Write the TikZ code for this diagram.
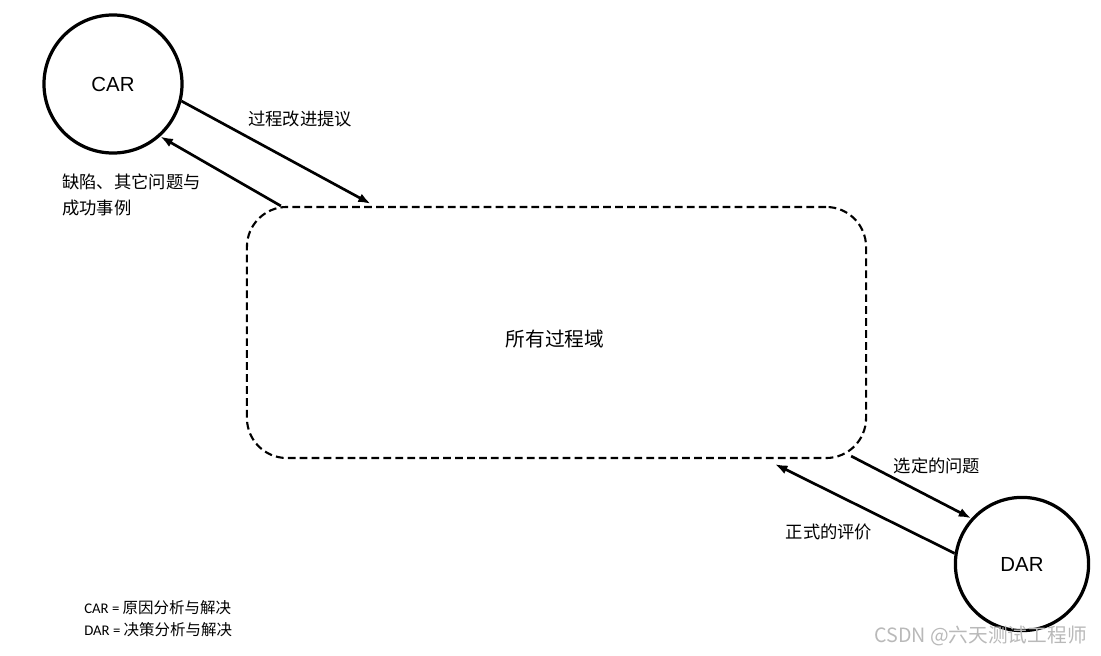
\documentclass[tikz,border=0pt]{standalone}
\usepackage{fontspec}
\setmainfont{Liberation Sans}
\newfontfamily\cjk{Noto Sans CJK SC}
\newfontfamily\calibri{Carlito}
\usetikzlibrary{arrows.meta,calc,positioning}

\begin{document}
\begin{tikzpicture}[x=0.025cm,y=-0.025cm,>={Latex[length=9pt,width=6.5pt]},
  proc/.style={circle,draw,line width=2.3pt,minimum size=3.45cm,font=\fontsize{14.5}{16}\selectfont},
  flow/.style={->,line width=1.9pt},
  lbl/.style={font=\cjk\fontsize{12.3}{18.5}\selectfont,inner sep=0pt}]
\useasboundingbox (0,0) rectangle (1101,656);
\node[proc] (car) at (113,84) {CAR};
\node[proc,minimum size=3.33cm] (dar) at (1022,564) {DAR};
\node[draw,line width=1.5pt,dash pattern=on 5.5pt off 3pt,rounded corners=1cm,
  minimum width=15.475cm,minimum height=6.275cm] (domain) at (556.5,332.5) {};
\node[font=\cjk\fontsize{14}{16}\selectfont,inner sep=0pt] (domaintext) at (555,339) {所有过程域};
\draw[flow] (car.-14) -- ($(domain.north west)+(125,-2)$);
\draw[flow] ($(domain.north west)+(35,0)$) -- (car.-48);
\draw[flow] ($(domain.south east)+(-16,-3)$) -- (dar.138);
\draw[flow] (dar.171) -- ($(domain.south west)+(529,5)$);
\node[lbl] (improve) at (300,119) {过程改进提议};
\node[lbl,align=left,anchor=west] (defects) at (62,195) {缺陷、其它问题与\\成功事例};
\node[lbl] (selected) at (937,466) {选定的问题};
\node[lbl] (review) at (829,532) {正式的评价};
\node[anchor=west,align=left,inner sep=0pt,font=\calibri\fontsize{10.5}{15.6}\selectfont] (key) at (84,619)
  {CAR = {\cjk\fontsize{11}{15.6}\selectfont 原因分析与解决}\\DAR = {\cjk\fontsize{11}{15.6}\selectfont 决策分析与解决}};
\node[anchor=east,inner sep=0pt,text=gray!55,font=\cjk\fontsize{14}{16}\selectfont] (mark) at (1087,636) {CSDN @六天测试工程师};
\end{tikzpicture}
\end{document}
